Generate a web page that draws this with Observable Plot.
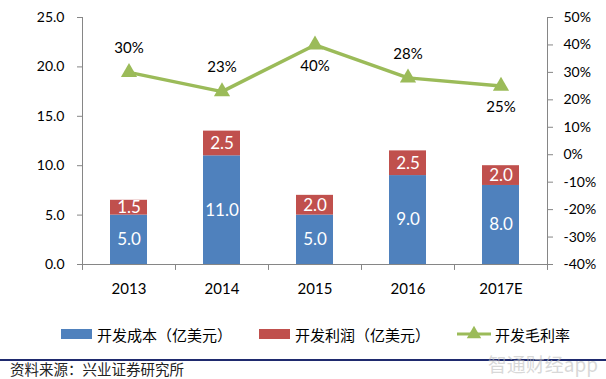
<!DOCTYPE html>
<html>
<head>
<meta charset="utf-8">
<script src="https://cdn.jsdelivr.net/npm/d3@7"></script>
<script src="https://cdn.jsdelivr.net/npm/@observablehq/plot@0.6"></script>
<style>
  html, body { margin: 0; padding: 0; background: #fff; }
  #wrap { position: relative; width: 606px; height: 379px; overflow: hidden; font-family: Lato, "Noto Sans CJK SC", sans-serif; }
  #legend { position: absolute; left: 0; top: 324px; width: 606px; height: 20px; font-family: "Noto Sans CJK SC", sans-serif; font-size: 15px; color: #000; }
  .item { position: absolute; top: 0; display: flex; align-items: center; height: 20px; white-space: nowrap; }
  .sw { display: inline-block; width: 31px; height: 10px; margin-right: 5px; }
  #rule { position: absolute; left: 0; top: 359px; width: 606px; height: 2px; background: #1f2a6e; }
  #source { position: absolute; left: 10px; top: 360px; font-family: "Noto Sans CJK SC", sans-serif; font-size: 14.5px; color: #222; line-height: 18px; }
  #wm { position: absolute; right: 8px; top: 352px; font-family: "Noto Sans CJK SC", sans-serif; font-size: 19px; color: rgba(190,190,190,0.6); line-height: 23px; }
</style>
</head>
<body>
<div id="wrap">
  <div id="chart"></div>
  <div id="legend"></div>
  <div id="rule"></div>
  <div id="source">资料来源：兴业证券研究所</div>
  <div id="wm">智通财经app</div>
</div>
<script>
const years = ["2013", "2014", "2015", "2016", "2017E"];
const devCost = [5.0, 11.0, 5.0, 9.0, 8.0];
const devProfit = [1.5, 2.5, 2.0, 2.5, 2.0];
const grossMargin = [30, 23, 40, 28, 25];
const marginLabelSide = ["above", "above", "below", "above", "below"];
const leftTicks = [0, 5, 10, 15, 20, 25];
const rightTicks = [-40, -30, -20, -10, 0, 10, 20, 30, 40, 50];
const seriesNames = ["开发成本（亿美元）", "开发利润（亿美元）", "开发毛利率"];
const colors = ["#4f81bd", "#c0504d", "#9bbb59"];

const leftMax = 25, pctMin = -40, pctMax = 50;
const toLeft = p => (p - pctMin) / (pctMax - pctMin) * leftMax;
const toPct = v => v / leftMax * (pctMax - pctMin) + pctMin;

const rows = [];
years.forEach((y, i) => {
  rows.push({year: y, series: seriesNames[0], value: devCost[i]});
  rows.push({year: y, series: seriesNames[1], value: devProfit[i]});
});
const lineData = years.map((y, i) => ({year: y, margin: grossMargin[i], side: marginLabelSide[i]}));

const axisColor = "#868686";
const half = 46.5;

const chart = Plot.plot({
  width: 606,
  height: 305,
  marginLeft: 82,
  marginRight: 59,
  marginTop: 17,
  marginBottom: 41,
  style: {fontFamily: "Lato, sans-serif", fontSize: "14px", color: "#000", background: "#fff"},
  x: {domain: years, paddingInner: 0.6, paddingOuter: 0.3, axis: null},
  y: {domain: [0, leftMax], axis: null},
  color: {domain: seriesNames.slice(0, 2), range: colors.slice(0, 2)},
  marks: [
    Plot.barY(rows, {x: "year", y: "value", fill: "series"}),
    Plot.text(rows, Plot.stackY({x: "year", y: "value", text: d => d.value.toFixed(1), fill: "white", fontSize: 17})),
    // axis lines
    Plot.ruleY([0], {stroke: axisColor}),
    Plot.ruleX([years[0]], {dx: -half, y1: 0, y2: leftMax, stroke: axisColor}),
    Plot.ruleX([years[years.length - 1]], {dx: half, y1: 0, y2: leftMax, stroke: axisColor}),
    // x boundary ticks
    Plot.ruleX(years, {dx: -half, y1: 0, y2: -0.6, stroke: axisColor}),
    Plot.ruleX([years[years.length - 1]], {dx: half, y1: 0, y2: -0.6, stroke: axisColor}),
    Plot.axisX({tickSize: 0, tickPadding: 19, fontSize: 15, label: null}),
    Plot.axisY({ticks: leftTicks, tickFormat: d => d.toFixed(1), tickSize: 5, tickPadding: 13, stroke: axisColor, fill: "#000", label: null}),
    Plot.axisY({anchor: "right", ticks: rightTicks.map(toLeft), tickFormat: d => Math.round(toPct(d)) + "%", tickSize: 5, tickPadding: 11, stroke: axisColor, fill: "#000", label: null}),
    // line
    Plot.line(lineData, {x: "year", y: d => toLeft(d.margin), stroke: colors[2], strokeWidth: 3.5}),
    Plot.dot(lineData, {x: "year", y: d => toLeft(d.margin), symbol: "triangle", r: 6, fill: colors[2], stroke: "none"}),
    Plot.text(lineData.filter(d => d.side === "above"), {x: "year", y: d => toLeft(d.margin), text: d => d.margin + "%", dy: -24, fontSize: 15, fill: "#000"}),
    Plot.text(lineData.filter(d => d.side === "below"), {x: "year", y: d => toLeft(d.margin), text: d => d.margin + "%", dy: 21, fontSize: 15, fill: "#000"})
  ]
});
document.getElementById("chart").appendChild(chart);

const legend = document.getElementById("legend");
const lefts = [61, 259, 457];
seriesNames.forEach((name, i) => {
  const item = document.createElement("div");
  item.className = "item";
  item.style.left = lefts[i] + "px";
  if (i < 2) {
    const sw = document.createElement("span");
    sw.className = "sw";
    sw.style.background = colors[i];
    item.appendChild(sw);
  } else {
    const svg = d3.create("svg").attr("width", 34).attr("height", 20).style("margin-right", "4px");
    svg.append("line").attr("x1", 0).attr("x2", 34).attr("y1", 10).attr("y2", 10).attr("stroke", colors[2]).attr("stroke-width", 3);
    svg.append("path").attr("d", d3.symbol(d3.symbolTriangle, 90)()).attr("transform", "translate(17,10)").attr("fill", colors[2]);
    item.appendChild(svg.node());
  }
  const t = document.createElement("span");
  t.textContent = name;
  item.appendChild(t);
  legend.appendChild(item);
});
</script>
</body>
</html>
